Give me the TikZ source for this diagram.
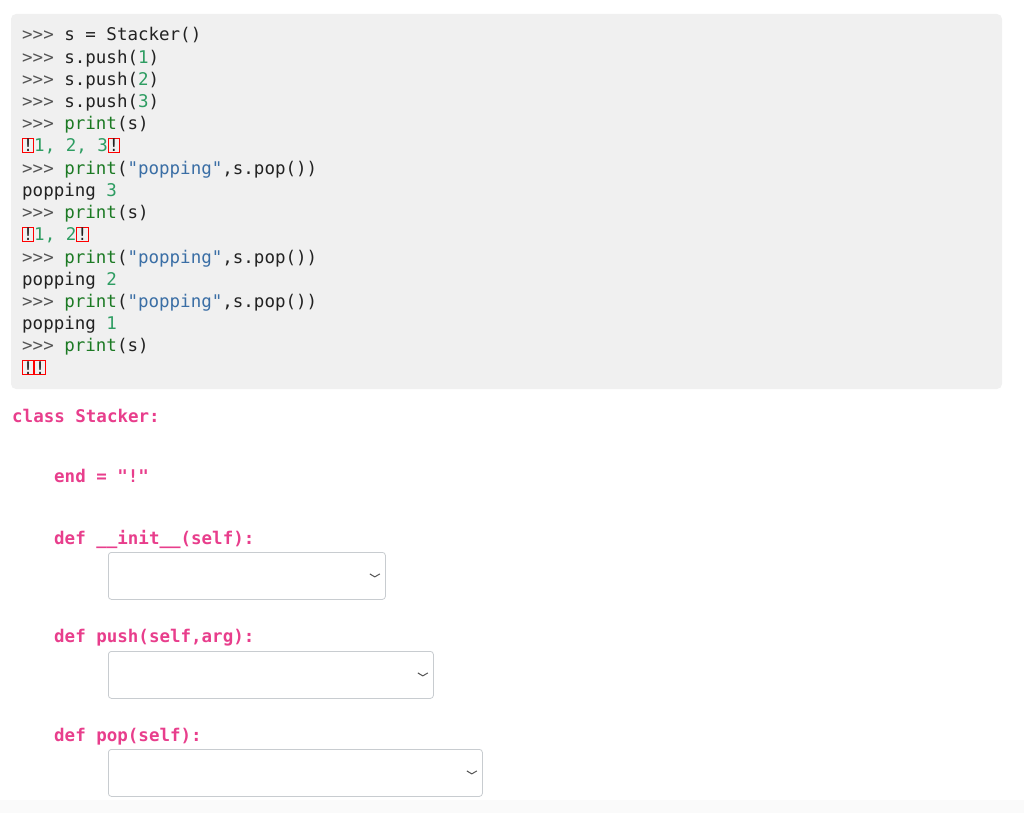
\documentclass[tikz,border=0pt]{standalone}
\usepackage{fontspec}
\setmonofont{DejaVu Sans Mono}
\definecolor{bg}{HTML}{F0F0F0}
\definecolor{pr}{HTML}{555555}
\definecolor{tx}{HTML}{222222}
\definecolor{num}{HTML}{2E9D62}
\definecolor{kw}{HTML}{1C7A24}
\definecolor{st}{HTML}{3A6EA5}
\definecolor{pk}{HTML}{E83E8C}
\definecolor{bd}{HTML}{C8CCD0}
\newcommand{\myP}{\textcolor{pr}{>>>} }
\newcommand{\myN}[1]{\textcolor{num}{#1}}
\newcommand{\myK}[1]{\textcolor{kw}{#1}}
\newcommand{\myS}[1]{\textcolor{st}{#1}}
\newcommand{\myB}{\tikz[baseline=(b.base)]\node[draw=red,line width=0.9pt,inner sep=0.3pt,text=tx](b){!};}
\begin{document}
\begin{tikzpicture}[x=1pt,y=-1pt,
 code/.style={anchor=base west,inner sep=0,font=\ttfamily\fontsize{17.5}{20}\selectfont,text=tx},
 cls/.style={anchor=base west,inner sep=0,font=\ttfamily\bfseries\fontsize{17.5}{20}\selectfont,text=pk},
 sel/.style={draw=bd,line width=0.8pt,rounded corners=3pt,fill=white}]
\useasboundingbox (0,0) rectangle (1024,813);
\fill[bg,rounded corners=5pt] (11,14) rectangle (1002,389);
\fill[black!2] (0,800) rectangle (1024,813);
\node[code] (l1) at (22,41) {\myP s = Stacker()};
\node[code] (l2) at (22,63.2) {\myP s.push(\myN{1})};
\node[code] (l3) at (22,85.4) {\myP s.push(\myN{2})};
\node[code] (l4) at (22,107.6) {\myP s.push(\myN{3})};
\node[code] (l5) at (22,129.8) {\myP \myK{print}(s)};
\node[code] (l6) at (22,152) {\myB\myN{1, 2, 3}\myB};
\node[code] (l7) at (22,174.2) {\myP \myK{print}(\myS{"popping"},s.pop())};
\node[code] (l8) at (22,196.4) {popping \myN{3}};
\node[code] (l9) at (22,218.6) {\myP \myK{print}(s)};
\node[code] (l10) at (22,240.8) {\myB\myN{1, 2}\myB};
\node[code] (l11) at (22,263) {\myP \myK{print}(\myS{"popping"},s.pop())};
\node[code] (l12) at (22,285.2) {popping \myN{2}};
\node[code] (l13) at (22,307.4) {\myP \myK{print}(\myS{"popping"},s.pop())};
\node[code] (l14) at (22,329.6) {popping \myN{1}};
\node[code] (l15) at (22,351.8) {\myP \myK{print}(s)};
\node[code] (l16) at (22,374) {\myB\myB};
\node[cls] (c1) at (12,422) {class Stacker:};
\node[cls] (c2) at (54,482) {end = "!"};
\node[cls] (c3) at (54,544) {def \_\_init\_\_(self):};
\node[cls] (c4) at (54,642) {def push(self,arg):};
\node[cls] (c5) at (54,741) {def pop(self):};
\node[sel] (s1) [minimum width=277pt,minimum height=47pt,anchor=north west] at (108,552) {};
\node[sel] (s2) [minimum width=325pt,minimum height=47pt,anchor=north west] at (108,651) {};
\node[sel] (s3) [minimum width=374pt,minimum height=47pt,anchor=north west] at (108,749) {};
\foreach \s in {s1,s2,s3}
  \draw[pr,line width=1pt] ([xshift=-16pt,yshift=2pt]\s.east) -- ++(5,3) -- ++(5,-3);
\end{tikzpicture}
\end{document}
